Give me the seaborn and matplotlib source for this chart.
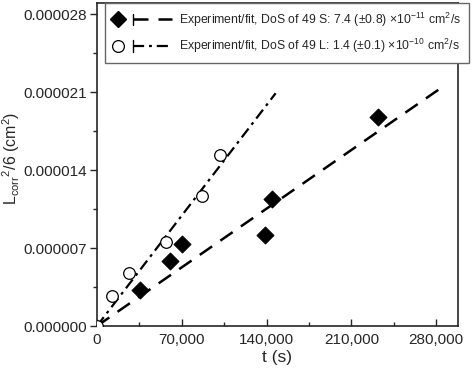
import numpy as np
import pandas as pd
import seaborn as sns
import matplotlib.pyplot as plt
from matplotlib.ticker import FuncFormatter, MultipleLocator
from matplotlib.lines import Line2D
from matplotlib.legend_handler import HandlerBase

# experiment data, 49 S (diamonds)
t_S = [35600, 60400, 70100, 138400, 144500, 232200]
y_S = [3.2e-6, 5.8e-6, 7.35e-6, 8.15e-6, 11.4e-6, 18.8e-6]
# experiment data, 49 L (open circles)
t_L = [0, 12700, 26500, 57100, 86600, 101200]
y_L = [0.0, 2.65e-6, 4.8e-6, 7.5e-6, 11.7e-6, 15.35e-6]
# fit lines (end points)
t_fit_S = [0, 287000]
y_fit_S = [0.0, 21.6e-6]
t_fit_L = [0, 147500]
y_fit_L = [0.0, 20.9e-6]

lab_S = r'Experiment/fit, DoS of 49 S: 7.4 ($\pm$0.8) $\times$10$^{-11}$ cm$^{2}$/s'
lab_L = r'Experiment/fit, DoS of 49 L: 1.4 ($\pm$0.1) $\times$10$^{-10}$ cm$^{2}$/s'

sns.set_style('ticks')
plt.rcParams['font.family'] = ['Liberation Sans', 'DejaVu Sans']
plt.rcParams['mathtext.fontset'] = 'custom'
plt.rcParams['mathtext.rm'] = 'Liberation Sans'
plt.rcParams['mathtext.it'] = 'Liberation Sans:italic'

dash_S = (0, (6, 4))
dash_L = (0, (5, 2.2, 1.3, 2.2))


class MarkerLineHandler(HandlerBase):
    # marker on the left, then a short tick and the fit line
    def create_artists(self, legend, orig_handle, xdescent, ydescent,
                       width, height, fontsize, trans):
        mk, ln = orig_handle
        x0 = -xdescent
        y = height / 2 - ydescent
        m = Line2D([x0 + 4], [y])
        m.update_from(mk)
        xs = x0 + 15
        t = Line2D([xs, xs], [y - 4, y + 4], color='black', lw=1.0)
        l = Line2D([xs, x0 + width], [y, y])
        l.update_from(ln)
        for a in (m, t, l):
            a.set_transform(trans)
        return [m, t, l]


fig = plt.figure(figsize=(4.74, 3.68), dpi=100)
ax = fig.add_axes([0.2046, 0.1141, 0.9662 - 0.2046, 0.9918 - 0.1141])

sns.lineplot(x=t_fit_S, y=y_fit_S, ax=ax, color='black', lw=1.8, linestyle=dash_S)
sns.lineplot(x=t_fit_L, y=y_fit_L, ax=ax, color='black', lw=1.6, linestyle=dash_L)
sns.scatterplot(x=t_S, y=y_S, ax=ax, marker='D', s=75, color='black',
                edgecolor='black', zorder=3)
sns.scatterplot(x=t_L, y=y_L, ax=ax, marker='o', s=70, facecolor='white',
                edgecolor='black', linewidth=0.9, zorder=3)

ax.set_xlim(0, 298000)
ax.set_ylim(0, 29e-6)
ax.xaxis.set_major_locator(MultipleLocator(70000))
ax.xaxis.set_minor_locator(MultipleLocator(35000))
ax.yaxis.set_major_locator(MultipleLocator(7e-6))
ax.yaxis.set_minor_locator(MultipleLocator(3.5e-6))
ax.xaxis.set_major_formatter(FuncFormatter(lambda v, p: f'{v:,.0f}'))
ax.yaxis.set_major_formatter(FuncFormatter(lambda v, p: f'{v:.6f}'))
ax.tick_params(axis='x', which='both', direction='in', labelsize=11, pad=5)
ax.tick_params(axis='y', which='both', direction='out', labelsize=11, pad=2)
ax.tick_params(which='major', length=5, width=1)
ax.tick_params(which='minor', length=3, width=1)
for s in ax.spines.values():
    s.set_linewidth(1.2)
    s.set_visible(True)

ax.set_xlabel('t (s)', fontsize=12.5, labelpad=2)
ax.set_ylabel(r'L$_{\mathrm{corr}}$$^{2}$/6 (cm$^{2}$)', fontsize=11.5)
ax.yaxis.set_label_coords(-0.207, 0.52)

h_S = (Line2D([], [], marker='D', color='black', ls='none', ms=8),
       Line2D([], [], color='black', lw=1.8, ls=dash_S))
h_L = (Line2D([], [], marker='o', mfc='white', mec='black', mew=0.9,
              ls='none', ms=8.5),
       Line2D([], [], color='black', lw=1.6, ls=dash_L))
leg = ax.legend([h_S, h_L], [lab_S, lab_L], loc='upper left',
                bbox_to_anchor=(0.022, 1.0), borderaxespad=0, fontsize=8.8,
                frameon=True, fancybox=False, edgecolor='#666666', framealpha=1,
                handler_map={tuple: MarkerLineHandler()},
                handlelength=4.9, handletextpad=0.6, borderpad=0.6,
                labelspacing=0.7)
leg.get_frame().set_linewidth(1.0)

fig.savefig('out.png', dpi=100)
